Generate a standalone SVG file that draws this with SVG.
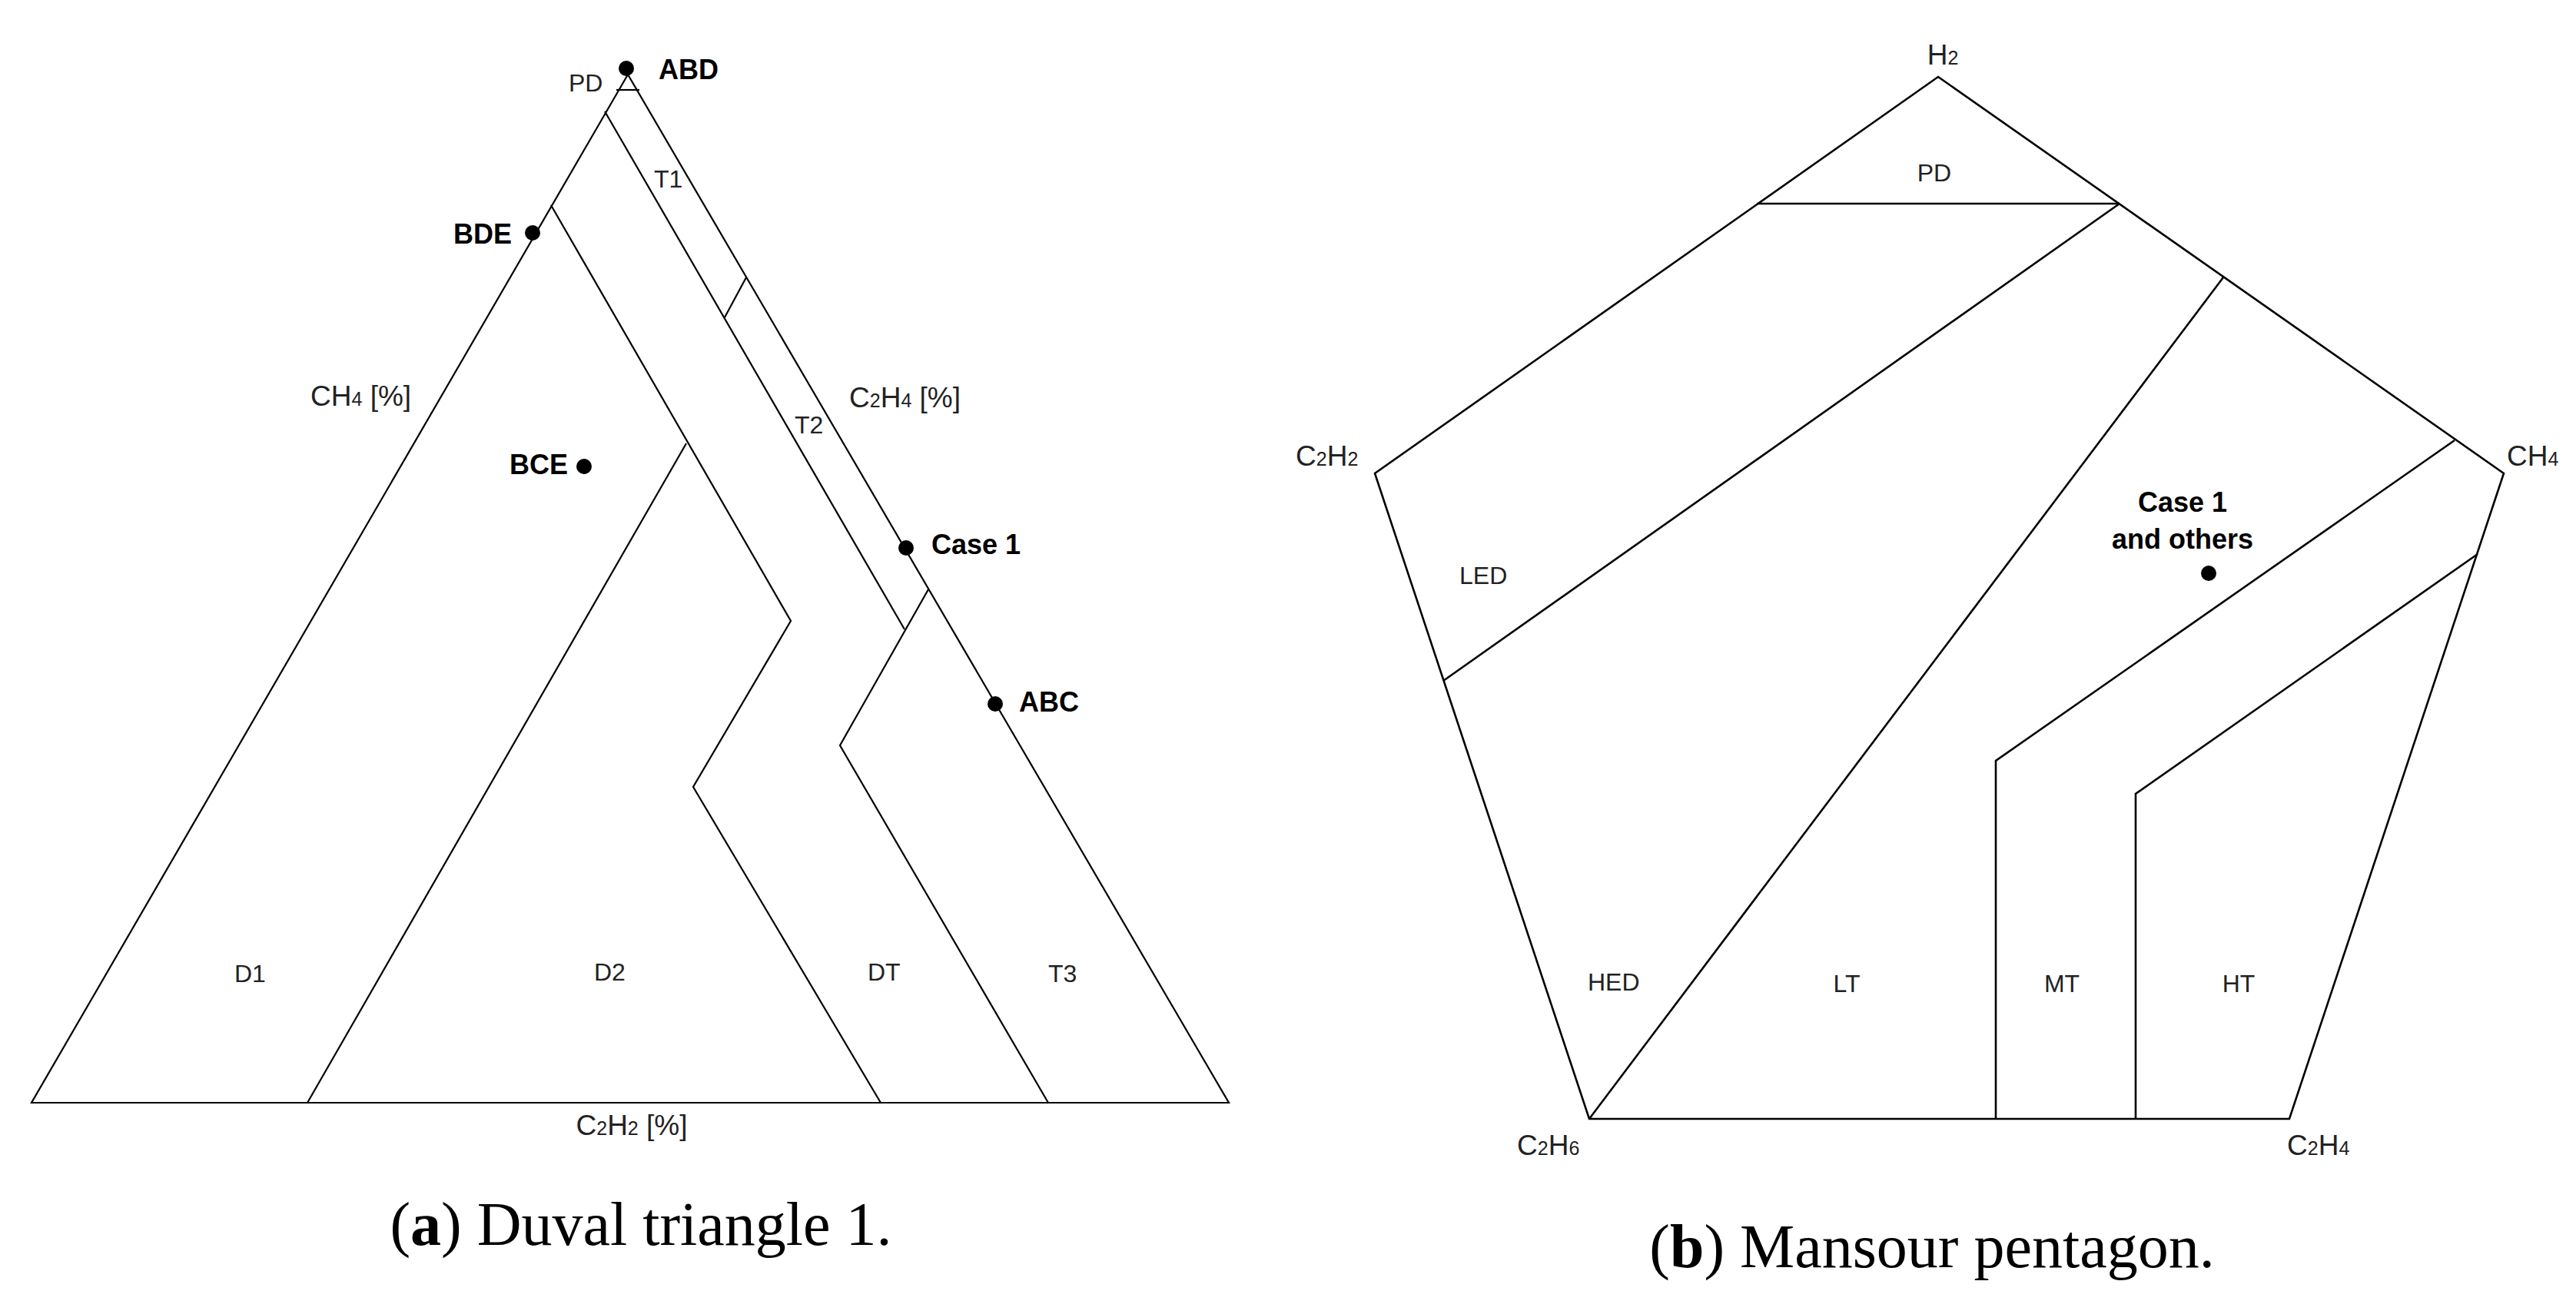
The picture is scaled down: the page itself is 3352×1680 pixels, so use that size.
<svg xmlns="http://www.w3.org/2000/svg" width="3352" height="1680" viewBox="0 0 3352 1680">
<style>
.ln{fill:none;stroke:#000;stroke-width:2.2;stroke-linejoin:miter}
.pl{fill:none;stroke:#000;stroke-width:2.6}
.lb{font-family:"Liberation Sans",Arial,sans-serif;font-size:32px;fill:#222}
.ax{font-family:"Liberation Sans",Arial,sans-serif;font-size:37px;fill:#222}
.bd{font-family:"Liberation Sans",Arial,sans-serif;font-size:36px;font-weight:bold;fill:#000}
.cap{font-family:"Liberation Serif","Times New Roman",serif;font-size:80px;fill:#000}
.sub{font-size:25px}
</style>
<rect width="3352" height="1680" fill="#fff"/>
<g id="triangle">
<g id="tri-lines">
<polygon class="ln" points="817,97 41,1435 1599,1435"/>
<polyline class="ln" points="802,117 832,117"/>
<polyline class="ln" points="787,145 1177,819"/>
<polyline class="ln" points="971,361 943,413"/>
<polyline class="ln" points="717,267 1029,808 902,1024 1146,1435"/>
<polyline class="ln" points="893,577 400,1435"/>
<polyline class="ln" points="1208,767 1093,970 1364,1435"/>
</g>
<g id="tri-points">
<circle cx="815" cy="89" r="10"/>
<circle cx="693" cy="303" r="10"/>
<circle cx="760" cy="607" r="10"/>
<circle cx="1179" cy="713" r="10"/>
<circle cx="1295" cy="916" r="10"/>
</g>
<g id="tri-labels">
<text class="bd" x="857" y="103">ABD</text>
<text class="bd" x="666" y="317" text-anchor="end">BDE</text>
<text class="bd" x="739" y="617" text-anchor="end">BCE</text>
<text class="bd" x="1212" y="721">Case 1</text>
<text class="bd" x="1326" y="926">ABC</text>
<text class="lb" x="740" y="119">PD</text>
<text class="lb" x="851" y="244">T1</text>
<text class="lb" x="1034" y="564">T2</text>
<text class="lb" x="305" y="1278">D1</text>
<text class="lb" x="773" y="1276">D2</text>
<text class="lb" x="1129" y="1276">DT</text>
<text class="lb" x="1364" y="1278">T3</text>
<text class="ax" x="404" y="528">CH<tspan class="sub">4</tspan> [%]</text>
<text class="ax" x="1105" y="530">C<tspan class="sub">2</tspan>H<tspan class="sub">4</tspan> [%]</text>
<text class="ax" x="822" y="1477" text-anchor="middle">C<tspan class="sub">2</tspan>H<tspan class="sub">2</tspan> [%]</text>
</g>
<text class="cap" x="834" y="1620" text-anchor="middle">(<tspan font-weight="bold">a</tspan>) Duval triangle 1.</text>
</g>
<g id="pentagon">
<g id="pent-lines">
<polygon class="pl" points="2522,100 3258,616 2979,1456 2068,1456 1789,616"/>
<polyline class="pl" points="2286,265 2758,265"/>
<polyline class="pl" points="2758,265 1878,886"/>
<polyline class="pl" points="2893,361 2068,1456"/>
<polyline class="pl" points="3194,573 2597,990 2597,1456"/>
<polyline class="pl" points="3224,721 2779,1033 2779,1456"/>
</g>
<circle cx="2874" cy="746" r="10"/>
<g id="pent-labels">
<text class="bd" x="2840" y="666" text-anchor="middle">Case 1</text>
<text class="bd" x="2840" y="714" text-anchor="middle">and others</text>
<text class="ax" x="2528" y="84" text-anchor="middle">H<tspan class="sub">2</tspan></text>
<text class="ax" x="1686" y="606">C<tspan class="sub">2</tspan>H<tspan class="sub">2</tspan></text>
<text class="ax" x="3262" y="606">CH<tspan class="sub">4</tspan></text>
<text class="ax" x="1974" y="1503">C<tspan class="sub">2</tspan>H<tspan class="sub">6</tspan></text>
<text class="ax" x="2976" y="1503">C<tspan class="sub">2</tspan>H<tspan class="sub">4</tspan></text>
<text class="lb" x="2517" y="236" text-anchor="middle">PD</text>
<text class="lb" x="1899" y="760">LED</text>
<text class="lb" x="2066" y="1289">HED</text>
<text class="lb" x="2403" y="1291" text-anchor="middle">LT</text>
<text class="lb" x="2683" y="1291" text-anchor="middle">MT</text>
<text class="lb" x="2913" y="1291" text-anchor="middle">HT</text>
</g>
<text class="cap" x="2514" y="1649" text-anchor="middle">(<tspan font-weight="bold">b</tspan>) Mansour pentagon.</text>
</g>
</svg>
